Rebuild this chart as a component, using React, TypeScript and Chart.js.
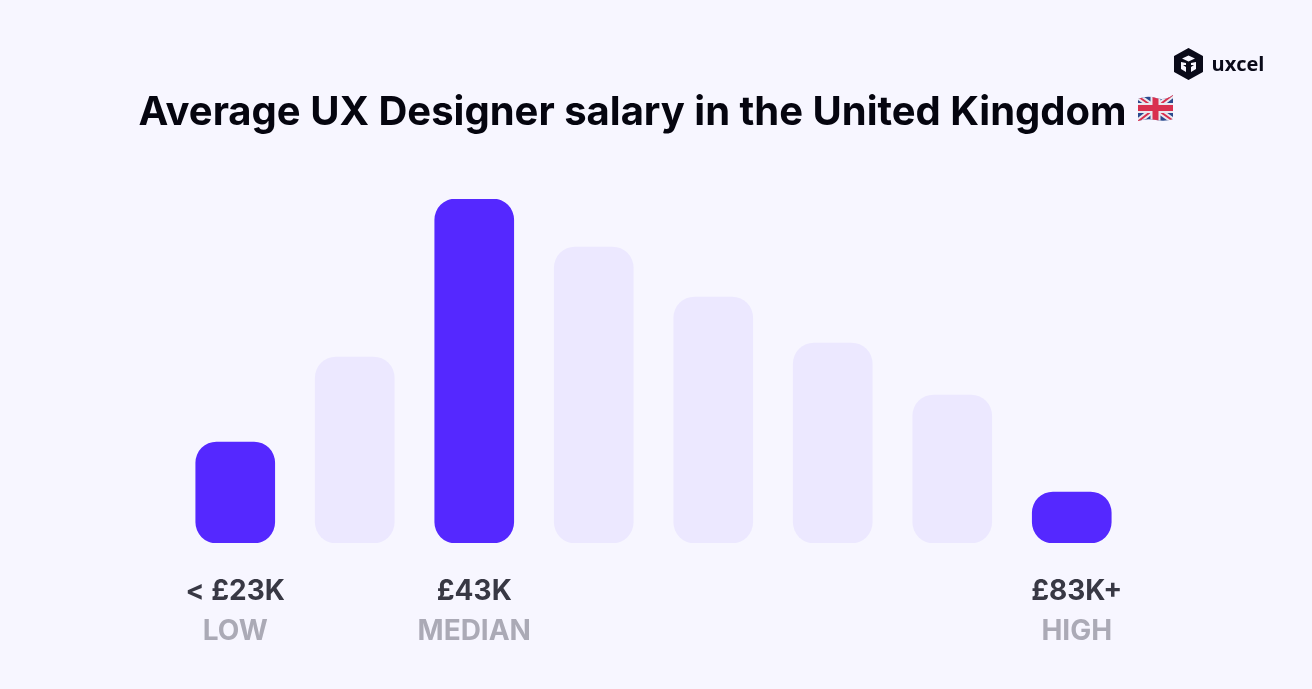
import { useEffect, useRef } from "react";
import { Chart, registerables, type Plugin } from "chart.js";

Chart.register(...registerables);

const salaryLabels = ["< £23K", "", "£43K", "", "", "", "", "£83K+"];
const captionLabels = ["LOW", "", "MEDIAN", "", "", "", "", "HIGH"];
const barHeights = [101, 186, 344, 296, 246, 200, 148, 51];
const highlighted = [true, false, true, false, false, false, false, true];
const labelNudge = [0, 0, 0, 0, 0, 0, 0, 5];

const chartTitle = "Average UX Designer salary in the United Kingdom";

const BG = "#F7F6FF";
const PURPLE = "#5528FF";
const LIGHT = "#ECE8FF";

// title sits off-centre because of the flag, and labels have two colours per bar
const textPlugin: Plugin<"bar"> = {
  id: "textPlugin",
  afterDraw(chart) {
    const { ctx, scales } = chart;
    ctx.save();
    ctx.textAlign = "center";
    ctx.textBaseline = "middle";
    ctx.font = "700 40px Inter";
    ctx.fillStyle = "#05050F";
    ctx.fillText(chartTitle, 632.5, 113);
    salaryLabels.forEach((label, i) => {
      if (!label) return;
      const x = scales.x.getPixelForValue(i) + labelNudge[i];
      ctx.font = "700 28px Inter";
      ctx.fillStyle = "#383844";
      ctx.fillText(label, x, 592);
      ctx.fillStyle = "#ABAAB6";
      ctx.fillText(captionLabels[i], x, 631.5);
    });
    ctx.restore();
  },
};

function SalaryChart() {
  const canvasRef = useRef<HTMLCanvasElement | null>(null);

  useEffect(() => {
    const el = canvasRef.current;
    if (!el) return;

    const chart = new Chart(el, {
      type: "bar",
      data: {
        labels: salaryLabels,
        datasets: [
          {
            data: barHeights,
            backgroundColor: highlighted.map((on) => (on ? PURPLE : LIGHT)),
            barThickness: 79,
            borderRadius: 21,
            borderSkipped: false,
          },
        ],
      },
      options: {
        animation: false,
        responsive: false,
        devicePixelRatio: 1,
        layout: { padding: { left: 175.5, right: 180.5, top: 199, bottom: 146 } },
        plugins: {
          legend: { display: false },
          tooltip: { enabled: false },
        },
        scales: {
          x: { display: false },
          y: { display: false, min: 0, max: 344 },
        },
      },
      plugins: [textPlugin],
    });

    return () => chart.destroy();
  }, []);

  return <canvas ref={canvasRef} width={1312} height={689} style={{ display: "block" }} />;
}

export default function App() {
  return (
    <div style={{ position: "fixed", left: 0, top: 0, width: 1312, height: 689, background: BG, overflow: "hidden" }}>
      <SalaryChart />
      <svg width={1312} height={689} style={{ position: "absolute", left: 0, top: 0 }}>
        <defs>
          <clipPath id="flagClip">
            <path d="M1138 99 Q1147 95 1156 98 T1173 95 L1173 119 Q1165 122 1156 120 T1138 121 Z" />
          </clipPath>
        </defs>
        {/* logo */}
        <path d="M1188.5 49 L1202 56.5 L1202 71.5 L1188.5 79 L1175 71.5 L1175 56.5 Z" fill="#0A0A19" stroke="#0A0A19" strokeWidth={2} strokeLinejoin="round" />
        <path d="M1188.5 55.5 L1195 58.5 L1188.5 61.5 L1182 58.5 Z M1181 62 L1186 63 L1186 65 L1183 65 L1186 67 L1186 72 L1181 69 Z M1196 62 L1191 63 L1191 65 L1194 65 L1191 67 L1191 72 L1196 69 Z" fill="#F7F6FF" />
        <text x={1211.5} y={71} fontFamily="Open Sans" fontWeight={700} fontSize={20} fill="#0A0A19">uxcel</text>
        {/* flag */}
        <g clipPath="url(#flagClip)">
          <rect x={1136} y={92} width={40} height={32} fill="#2B4A8E" />
          <path d="M1136 95 L1175 122 M1175 93 L1136 123" stroke="#E9E9F0" strokeWidth={6} />
          <path d="M1136 95 L1175 122 M1175 93 L1136 123" stroke="#D9304F" strokeWidth={2} />
          <path d="M1155.5 92 V124 M1136 108 H1176" stroke="#E9E9F0" strokeWidth={10} />
          <path d="M1155.5 92 V124 M1136 108 H1176" stroke="#D9304F" strokeWidth={6} />
        </g>
      </svg>
    </div>
  );
}
